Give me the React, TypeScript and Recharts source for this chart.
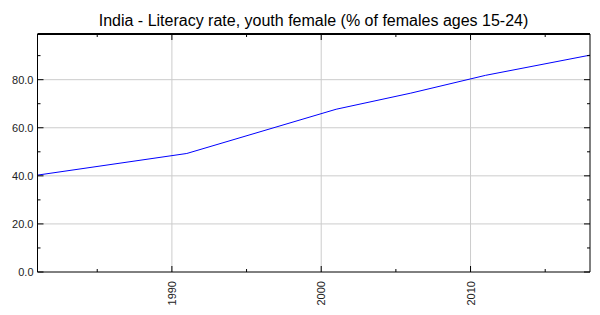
import React from "react";
import { LineChart, Line, XAxis, YAxis, ReferenceLine } from "recharts";

const years = [1981, 1991, 2001, 2006, 2011, 2018];
const literacy = [40.3, 49.3, 67.7, 74.4, 81.8, 90.2];
const xTicks = [1985, 1990, 1995, 2000, 2005, 2010, 2015];
const xMajor = [1990, 2000, 2010];
const yTicks = [0, 10, 20, 30, 40, 50, 60, 70, 80, 90];
const yMajor = [0, 20, 40, 60, 80];
const yGrid = [20, 40, 60, 80];
const yMax = 99;
const title = "India - Literacy rate, youth female (% of females ages 15-24)";

const data = years.map((y, i) => ({ year: y, value: literacy[i] }));

const FONT = "'Liberation Sans', Arial, sans-serif";
const CHART_H = 315;
const MARGIN_TOP = 34;
const X_AXIS_H = 43;
const PLOT_H = CHART_H - MARGIN_TOP - X_AXIS_H;

const BottomTick = (props: any) => {
  const { x, y, payload } = props;
  const major = xMajor.includes(payload.value);
  const len = major ? 6 : 3;
  const top = y - PLOT_H;
  return (
    <g>
      <line x1={x} x2={x} y1={y} y2={y - len} stroke="#000" strokeWidth={1} />
      <line x1={x} x2={x} y1={top} y2={top + len} stroke="#000" strokeWidth={1} />
      {major && (
        <text
          x={x}
          y={y + 9}
          transform={`rotate(-90, ${x}, ${y + 9})`}
          textAnchor="end"
          dominantBaseline="central"
          fontSize={11}
          fontFamily={FONT}
          fill="#222"
        >
          {payload.value}
        </text>
      )}
    </g>
  );
};

const LeftTick = (props: any) => {
  const { x, y, payload } = props;
  const major = yMajor.includes(payload.value);
  return (
    <g>
      <line x1={x} x2={x + (major ? 6 : 3)} y1={y} y2={y} stroke="#000" strokeWidth={1} />
      {major && (
        <text
          x={x - 4}
          y={y}
          textAnchor="end"
          dominantBaseline="central"
          fontSize={11}
          fontFamily={FONT}
          fill="#222"
        >
          {Number(payload.value).toFixed(1)}
        </text>
      )}
    </g>
  );
};

const RightTick = (props: any) => {
  const { x, y, payload } = props;
  const major = yMajor.includes(payload.value);
  return <line x1={x} x2={x - (major ? 6 : 3)} y1={y} y2={y} stroke="#000" strokeWidth={1} />;
};

export default function App() {
  return (
    <div style={{ position: "absolute", left: 0, top: 0, width: 600, height: 315, background: "#fff" }}>
      <div
        style={{
          position: "absolute",
          left: 0,
          top: 11.5,
          width: 627,
          textAlign: "center",
          fontFamily: FONT,
          fontSize: 16,
          color: "#000",
          lineHeight: "18px",
          whiteSpace: "nowrap",
        }}
      >
        {title}
      </div>
      <LineChart width={600} height={CHART_H} data={data} margin={{ top: MARGIN_TOP, right: 9, bottom: 0, left: 0 }}>
        <XAxis
          dataKey="year"
          type="number"
          domain={[1981, 2018]}
          ticks={xTicks}
          interval={0}
          height={X_AXIS_H}
          tickSize={0}
          tickMargin={0}
          tickLine={false}
          axisLine={{ stroke: "#000", strokeWidth: 1 }}
          tick={BottomTick}
          allowDataOverflow
        />
        <YAxis
          type="number"
          domain={[0, yMax]}
          ticks={yTicks}
          interval={0}
          width={37.5}
          tickSize={0}
          tickMargin={0}
          tickLine={false}
          axisLine={{ stroke: "#000", strokeWidth: 1 }}
          tick={LeftTick}
          allowDataOverflow
        />
        <YAxis
          yAxisId="right"
          orientation="right"
          type="number"
          domain={[0, yMax]}
          ticks={yTicks}
          interval={0}
          width={1}
          tickSize={0}
          tickMargin={0}
          tickLine={false}
          axisLine={{ stroke: "#000", strokeWidth: 1 }}
          tick={RightTick}
          allowDataOverflow
        />
        {yGrid.map((v) => (
          <ReferenceLine key={"y" + v} y={v} stroke="#cccccc" strokeWidth={1} />
        ))}
        {xMajor.map((v) => (
          <ReferenceLine key={"x" + v} x={v} stroke="#cccccc" strokeWidth={1} />
        ))}
        <ReferenceLine y={yMax} stroke="#000" strokeWidth={2} ifOverflow="visible" />
        <Line
          yAxisId="right"
          type="linear"
          dataKey="value"
          stroke="none"
          strokeOpacity={0}
          dot={false}
          activeDot={false}
          isAnimationActive={false}
        />
        <Line
          type="linear"
          dataKey="value"
          stroke="#0000ff"
          strokeWidth={1}
          dot={false}
          activeDot={false}
          isAnimationActive={false}
        />
      </LineChart>
    </div>
  );
}
